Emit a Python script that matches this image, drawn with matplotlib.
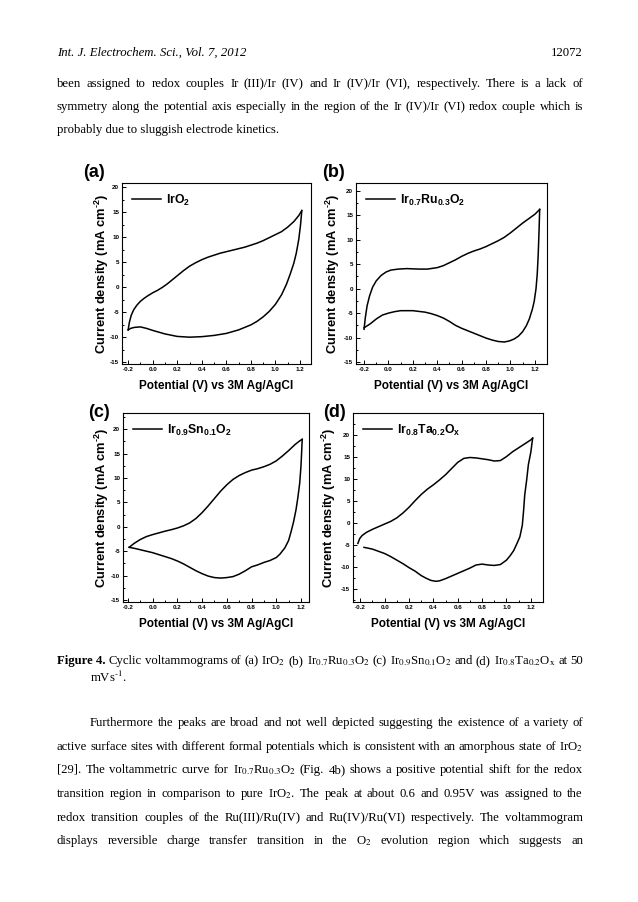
import numpy as np
import matplotlib
matplotlib.use("Agg")
import matplotlib.pyplot as plt
from matplotlib.ticker import MultipleLocator, FormatStrFormatter

plt.rcParams['font.family'] = 'Liberation Sans'
plt.rcParams['mathtext.fontset'] = 'custom'
plt.rcParams['mathtext.rm'] = 'Liberation Sans:bold'
plt.rcParams['mathtext.it'] = 'Liberation Sans:bold:italic'
plt.rcParams['mathtext.bf'] = 'Liberation Sans:bold'
plt.rcParams['axes.unicode_minus'] = False

# ---- CV data (potential V, current mA cm-2) ----
# (a) IrO2
a_up_v = [-0.2, -0.19, -0.175, -0.155, -0.13, -0.1, -0.07, -0.04, 0.0, 0.04, 0.08, 0.12, 0.16, 0.2,
          0.25, 0.3, 0.35, 0.4, 0.45, 0.5, 0.55, 0.6, 0.65, 0.7, 0.75, 0.8, 0.85, 0.9, 0.95, 1.0,
          1.05, 1.1, 1.15, 1.19, 1.215]
a_up_i = [-8.5, -7.0, -5.6, -4.5, -3.6, -2.8, -2.2, -1.7, -1.1, -0.6, 0.0, 0.7, 1.5, 2.3,
          3.3, 4.2, 4.9, 5.5, 6.0, 6.4, 6.8, 7.1, 7.4, 7.7, 8.0, 8.4, 8.8, 9.3, 9.9, 10.5,
          11.1, 12.0, 13.1, 14.3, 15.3]
a_dn_v = [1.215, 1.205, 1.19, 1.17, 1.15, 1.12, 1.09, 1.05, 1.0, 0.95, 0.9, 0.85, 0.8, 0.75, 0.7,
          0.6, 0.5, 0.4, 0.3, 0.2, 0.1, 0.0, -0.05, -0.1, -0.15, -0.18, -0.2]
a_dn_i = [15.3, 12.5, 9.5, 6.8, 4.8, 2.6, 0.6, -1.5, -3.4, -4.8, -5.9, -6.8, -7.5, -8.0, -8.5,
          -9.2, -9.6, -9.85, -9.95, -9.8, -9.3, -8.6, -8.2, -7.9, -8.0, -8.2, -8.5]

# (b) Ir0.7Ru0.3O2
b_up_v = [-0.2, -0.19, -0.175, -0.155, -0.13, -0.1, -0.06, -0.02, 0.02, 0.08, 0.15, 0.25, 0.32,
          0.4, 0.45, 0.5, 0.55, 0.6, 0.65, 0.7, 0.75, 0.8, 0.85, 0.9, 0.95, 1.0, 1.05, 1.1,
          1.15, 1.2, 1.24]
b_up_i = [-8.3, -6.0, -3.5, -1.5, 0.3, 1.6, 2.7, 3.4, 3.8, 4.0, 4.1, 4.0, 4.0,
          4.3, 4.7, 5.3, 5.9, 6.6, 7.2, 7.7, 8.1, 8.6, 9.2, 9.8, 10.5, 11.4, 12.4, 13.4,
          14.3, 15.2, 16.2]
b_dn_v = [1.24, 1.235, 1.228, 1.22, 1.21, 1.195, 1.18, 1.155, 1.13, 1.1, 1.066, 1.03, 0.99, 0.95,
          0.9, 0.85, 0.8, 0.75, 0.7, 0.65, 0.6, 0.55, 0.5, 0.45, 0.4, 0.35, 0.3, 0.2, 0.1,
          0.05, 0.0, -0.05, -0.1, -0.15, -0.2]
b_dn_i = [16.2, 12.0, 7.0, 3.0, 0.0, -2.6, -4.2, -6.2, -7.6, -8.8, -9.7, -10.3, -10.7, -10.9,
          -10.8, -10.5, -10.1, -9.6, -9.1, -8.6, -8.1, -7.5, -6.7, -6.0, -5.5, -5.1, -4.8, -4.5, -4.5,
          -4.7, -5.0, -5.4, -6.2, -7.2, -8.0]

# (c) Ir0.9Sn0.1O2
c_up_v = [-0.19, -0.15, -0.1, -0.05, 0.0, 0.05, 0.1, 0.15, 0.2, 0.25, 0.3, 0.35, 0.4, 0.45, 0.5,
          0.55, 0.6, 0.65, 0.7, 0.75, 0.8, 0.85, 0.9, 0.95, 1.0, 1.05, 1.1, 1.15, 1.19, 1.21]
c_up_i = [-4.2, -3.4, -2.6, -2.0, -1.6, -1.25, -0.9, -0.6, -0.25, 0.2, 0.8, 1.7, 2.9, 4.3, 5.8,
          7.3, 8.6, 9.7, 10.5, 11.1, 11.6, 11.9, 12.3, 12.8, 13.5, 14.5, 15.6, 16.8, 17.6, 17.9]
c_dn_v = [1.21, 1.205, 1.2, 1.19, 1.175, 1.16, 1.14, 1.12, 1.1, 1.07, 1.03, 1.0, 0.95, 0.9, 0.85,
          0.8, 0.75, 0.7, 0.65, 0.6, 0.55, 0.5, 0.45, 0.4, 0.35, 0.3, 0.25, 0.2, 0.15, 0.1,
          0.05, 0.0, -0.05, -0.1, -0.15, -0.19]
c_dn_i = [17.9, 15.0, 12.4, 9.0, 6.0, 3.5, 1.0, -1.0, -2.8, -4.3, -5.6, -6.3, -6.9, -7.3, -7.8,
          -8.2, -9.0, -9.7, -10.2, -10.4, -10.5, -10.4, -10.1, -9.6, -9.0, -8.3, -7.6, -7.0, -6.5, -6.1,
          -5.7, -5.3, -5.0, -4.7, -4.4, -4.2]

# (d) Ir0.8Ta0.2Ox
d_up_v = [-0.22, -0.205, -0.185, -0.15, -0.1, -0.05, 0.0, 0.05, 0.1, 0.15, 0.2, 0.25, 0.3, 0.35,
          0.4, 0.45, 0.5, 0.55, 0.6, 0.65, 0.7, 0.75, 0.8, 0.85, 0.9, 0.95, 1.0, 1.05, 1.1,
          1.15, 1.2, 1.215]
d_up_i = [-4.7, -3.6, -2.9, -2.2, -1.5, -0.9, -0.3, 0.3, 1.1, 2.2, 3.5, 5.0, 6.4, 7.6,
          8.6, 9.7, 10.9, 12.3, 13.7, 14.6, 14.8, 14.7, 14.5, 14.3, 14.0, 14.1, 15.0, 16.1, 17.0,
          17.9, 18.8, 19.2]
d_dn_v = [1.215, 1.2, 1.18, 1.165, 1.15, 1.14, 1.13, 1.11, 1.09, 1.06, 1.03, 1.0, 0.95, 0.9, 0.85,
          0.8, 0.75, 0.7, 0.65, 0.6, 0.55, 0.5, 0.45, 0.42, 0.38, 0.34, 0.3, 0.25, 0.2, 0.15,
          0.1, 0.05, 0.0, -0.05, -0.1, -0.15, -0.17]
d_dn_i = [19.2, 16.0, 13.2, 9.5, 6.3, 2.5, -0.6, -3.2, -4.5, -6.3, -7.5, -8.5, -9.5, -9.7, -9.6,
          -9.4, -9.6, -10.3, -10.9, -11.5, -12.1, -12.7, -13.2, -13.3, -13.1, -12.6, -12.0, -11.0, -10.2, -9.3,
          -8.5, -7.7, -7.0, -6.5, -6.0, -5.7, -5.6]

panel_tags = ["(a)", "(b)", "(c)", "(d)"]
legend_labels = [r"IrO$_2$", r"Ir$_{0.7}$Ru$_{0.3}$O$_2$",
                 r"Ir$_{0.9}$Sn$_{0.1}$O$_2$", r"Ir$_{0.8}$Ta$_{0.2}$O$_\mathrm{x}$"]
ylims = [(-15.3, 20.8), (-15.4, 21.6), (-15.4, 23.3), (-18.0, 24.9)]
xlims = [(-0.25, 1.29), (-0.266, 1.30), (-0.24, 1.265), (-0.26, 1.30)]

# ---- page text ----
header_left = "Int. J. Electrochem. Sci., Vol. 7, 2012"
header_right = "12072"
top_lines = [
    "been assigned to redox couples Ir (III)/Ir (IV) and Ir (IV)/Ir (VI), respectively. There is a lack of",
    "symmetry along the potential axis especially in the region of the Ir (IV)/Ir (VI) redox couple which is",
]
top_last = "probably due to sluggish electrode kinetics."
caption_rest = (r"Cyclic voltammograms of (a) IrO$_2$ (b) Ir$_{0.7}$Ru$_{0.3}$O$_2$ (c) Ir$_{0.9}$Sn$_{0.1}$O$_2$"
                r" and (d) Ir$_{0.8}$Ta$_{0.2}$O$_\mathrm{x}$ at 50")
caption_last = r"mVs$^{\text{-1}}$."
para_lines = [
    "Furthermore the peaks are broad and not well depicted suggesting the existence of a variety of",
    r"active surface sites with different formal potentials which is consistent with an amorphous state of IrO$_2$",
    r"[29]. The voltammetric curve for Ir$_{0.7}$Ru$_{0.3}$O$_2$ (Fig. 4b) shows a positive potential shift for the redox",
    r"transition region in comparison to pure IrO$_2$. The peak at about 0.6 and 0.95V was assigned to the",
    "redox transition couples of the Ru(III)/Ru(IV) and Ru(IV)/Ru(VI) respectively. The voltammogram",
    r"displays reversible charge transfer transition in the O$_2$ evolution region which suggests an",
]

W, H = 638, 902
fig = plt.figure(figsize=(W / 100, H / 100), dpi=100)
renderer = fig.canvas.get_renderer()
serif = "Liberation Serif"
body_size = 9.2


def put(x, y, s, **kw):
    return fig.text(x / W, 1 - y / H, s, va="baseline", **kw)


def justify(words, x0, x1, y, size=body_size):
    """ spread words over [x0, x1] like a justified line """
    items = []
    for w in words:
        kw = {}
        if isinstance(w, tuple):
            w, kw = w
        items.append(put(x0, y, w, fontsize=size, family=serif, math_fontfamily="stix", **kw))
    widths = [t.get_window_extent(renderer).width for t in items]
    gap = (x1 - x0 - sum(widths)) / (len(items) - 1)
    x = x0
    for t, w in zip(items, widths):
        t.set_x(x / W)
        x += w + gap


put(57, 56, header_left, fontsize=body_size, family=serif, style="italic")
put(583, 56, header_right, fontsize=body_size, family=serif, ha="right")

for line, y in zip(top_lines, [87, 110]):
    justify(line.split(), 57, 583, y)
put(57, 133, top_last, fontsize=body_size, family=serif)

justify([("Figure 4.", {"weight": "bold"})] + caption_rest.split(), 57, 583, 664)
put(90, 682, caption_last, fontsize=body_size, family=serif, math_fontfamily="stix")

para_y = [726, 750, 773, 797, 821, 844]
for k, (line, y) in enumerate(zip(para_lines, para_y)):
    x0 = 90 if k == 0 else 57
    justify(line.split(), x0, 583, y)

# ---- panels ----
boxes = [(122, 183, 311, 364), (356, 183, 547, 364), (123, 413, 309, 602), (353, 413, 543, 602)]
tag_pos = [(83, 177), (322, 177), (88, 417), (323, 417)]
ylabel_x = [111, 342, 111, 338]
curves = [(a_up_v, a_up_i, a_dn_v, a_dn_i), (b_up_v, b_up_i, b_dn_v, b_dn_i),
          (c_up_v, c_up_i, c_dn_v, c_dn_i), (d_up_v, d_up_i, d_dn_v, d_dn_i)]

for k in range(4):
    l, t, r, b = boxes[k]
    ax = fig.add_axes([l / W, 1 - b / H, (r - l) / W, (b - t) / H])
    uv, ui, dv, di = curves[k]
    ax.plot(uv, ui, color="k", lw=1.1, label=legend_labels[k])
    ax.plot(dv, di, color="k", lw=1.1)
    ax.set_xlim(xlims[k])
    ax.set_ylim(ylims[k])

    ax.xaxis.set_major_locator(MultipleLocator(0.2))
    ax.xaxis.set_minor_locator(MultipleLocator(0.1))
    ax.yaxis.set_major_locator(MultipleLocator(5))
    ax.yaxis.set_minor_locator(MultipleLocator(2.5))
    ax.xaxis.set_major_formatter(FormatStrFormatter("%.1f"))
    ax.tick_params(which="both", direction="in", top=False, right=False,
                   labelsize=4.5, pad=2, width=0.7)
    ax.tick_params(which="major", length=3)
    ax.tick_params(which="minor", length=1.6)
    for lab in ax.get_xticklabels() + ax.get_yticklabels():
        lab.set_fontweight("bold")
    for sp in ax.spines.values():
        sp.set_linewidth(0.8)

    ax.set_xlabel("Potential (V) vs 3M Ag/AgCl", fontsize=8.5, fontweight="bold")
    ax.xaxis.set_label_coords(0.5, -16 / (b - t))
    ax.set_ylabel(r"Current density (mA cm$^{\text{-2}}$)", fontsize=9.3, fontweight="bold")
    ax.yaxis.set_label_coords((ylabel_x[k] - l) / (r - l), 0.5)

    ax.legend(loc="upper left", frameon=False, handlelength=2.4, handletextpad=0.4,
              borderaxespad=0.4,
              prop={"family": "Liberation Sans", "weight": "bold", "size": 8.8})

    put(tag_pos[k][0], tag_pos[k][1], panel_tags[k], fontsize=13, fontweight="bold")

fig.savefig("out.png", dpi=100)
